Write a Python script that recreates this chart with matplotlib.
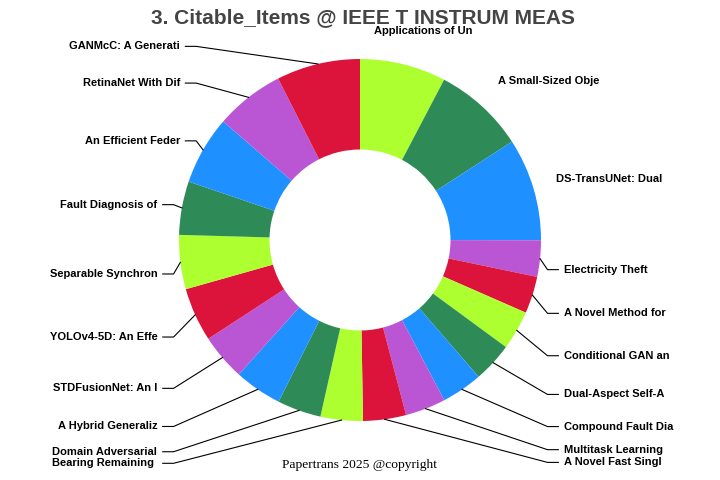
import numpy as np
import matplotlib
matplotlib.use("Agg")
import matplotlib.pyplot as plt

# titles (truncated to 18 chars as in the source chart)
titles = [
    "Applications of Un", "A Small-Sized Obje", "DS-TransUNet: Dual",
    "Electricity Theft ", "A Novel Method for", "Conditional GAN an",
    "Dual-Aspect Self-A", "Compound Fault Dia", "Multitask Learning",
    "A Novel Fast Singl", "Bearing Remaining ", "Domain Adversarial",
    "A Hybrid Generaliz", "STDFusionNet: An I", "YOLOv4-5D: An Effe",
    "Separable Synchron", "Fault Diagnosis of", "An Efficient Feder",
    "RetinaNet With Dif", "GANMcC: A Generati",
]
citations = [27.7, 29.4, 33.0, 11.7, 11.9, 12.6, 12.8, 13.2, 13.0, 13.8,
             13.6, 14.1, 15.3, 14.9, 17.3, 17.4, 17.2, 22.1, 22.2, 26.9]
palette = ["#ADFF2F", "#2E8B57", "#1E90FF", "#BA55D3", "#DC143C"]

plt.rcParams["font.family"] = ["Liberation Sans", "DejaVu Sans"]

fig = plt.figure(figsize=(7.2, 4.8), dpi=100)
ax = fig.add_axes([0, 0, 1, 1])

colors = [palette[i % len(palette)] for i in range(len(citations))]
wedges, _ = ax.pie(citations, colors=colors, startangle=90, counterclock=False,
                   radius=1.0, wedgeprops=dict(width=0.5, edgecolor="none"))

# pie() resets the limits, so set them afterwards (181 px per unit)
r_px = 181.0
ax.set_xlim(-360 / r_px, 360 / r_px)
ax.set_ylim(-240 / r_px, 240 / r_px)
ax.set_aspect("equal")
ax.axis("off")

total = sum(citations)
for w, name, v in zip(wedges, titles, citations):
    ang = np.deg2rad((w.theta1 + w.theta2) / 2.0)
    cx, cy = np.cos(ang), np.sin(ang)
    if v / total >= 0.075:
        # big slices: plain label, no leader line
        if abs(cx) < 0.3:
            ax.text(1.45 * cx, 1.19 * cy, name, ha="center", va="center",
                    fontsize=8, fontweight="bold")
        else:
            ax.text(1.13 * cx, 1.19 * cy, name,
                    ha="left" if cx > 0 else "right", va="center",
                    fontsize=8, fontweight="bold")
        continue
    side = 1 if cx > 0 else -1
    ly = 1.1 * cy if cy > 0 else 1.2 * cy - 0.04
    if side > 0:
        tx = 1.126
    else:
        tx = -0.995 if ly > 0.3 else -1.12
    seg_end = tx - side * 0.03
    knee = tx - side * 0.09
    ax.plot([cx, knee, seg_end], [cy, ly, ly], color="black", lw=0.8)
    ax.text(tx, ly, name, ha="left" if side > 0 else "right", va="center",
            fontsize=8, fontweight="bold")

fig.text(0.504, 1 - 18 / 480, "3. Citable_Items @ IEEE T INSTRUM MEAS",
         ha="center", va="center", fontsize=15, fontweight="bold",
         color="#444444")
fig.text(0.5, 1 - 465 / 480, "Papertrans 2025 @copyright", ha="center",
         va="center", fontsize=9.7, family="Liberation Serif")

fig.savefig("out.png", dpi=100)
